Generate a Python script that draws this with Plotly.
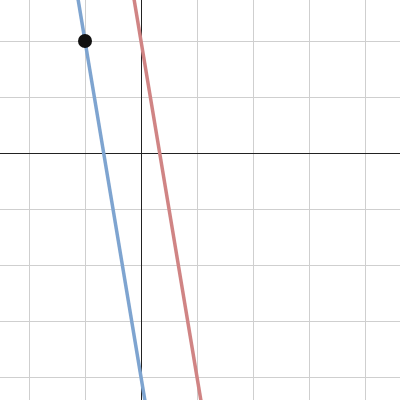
import numpy as np
import plotly.graph_objects as go

# lines y = m*x + b
blue_m, blue_b = -6, -4
red_m, red_b = -6, 2
point_x = [-1]
point_y = [2]

xs = np.array([-3, 5])

fig = go.Figure()
fig.add_trace(go.Scatter(x=xs, y=blue_m * xs + blue_b, mode="lines",
                         line=dict(color="#7ea4d0", width=3.5)))
fig.add_trace(go.Scatter(x=xs, y=red_m * xs + red_b, mode="lines",
                         line=dict(color="#d08484", width=3.5)))
fig.add_trace(go.Scatter(x=point_x, y=point_y, mode="markers",
                         marker=dict(color="#111111", size=14)))

axis = dict(showticklabels=False, gridcolor="#cfcfcf", gridwidth=1.2, dtick=1,
            zeroline=True, zerolinecolor="#222222", zerolinewidth=1.3,
            showline=False, fixedrange=True)
fig.update_layout(
    width=400, height=400, margin=dict(l=0, r=0, t=0, b=0),
    paper_bgcolor="white", plot_bgcolor="white", showlegend=False,
    xaxis=dict(range=[-2.518, 4.625], **axis),
    yaxis=dict(range=[-4.41, 2.732], **axis),
)
fig.write_html("out.html", config={"displayModeBar": False},
               post_script="document.body.style.margin='0';")
